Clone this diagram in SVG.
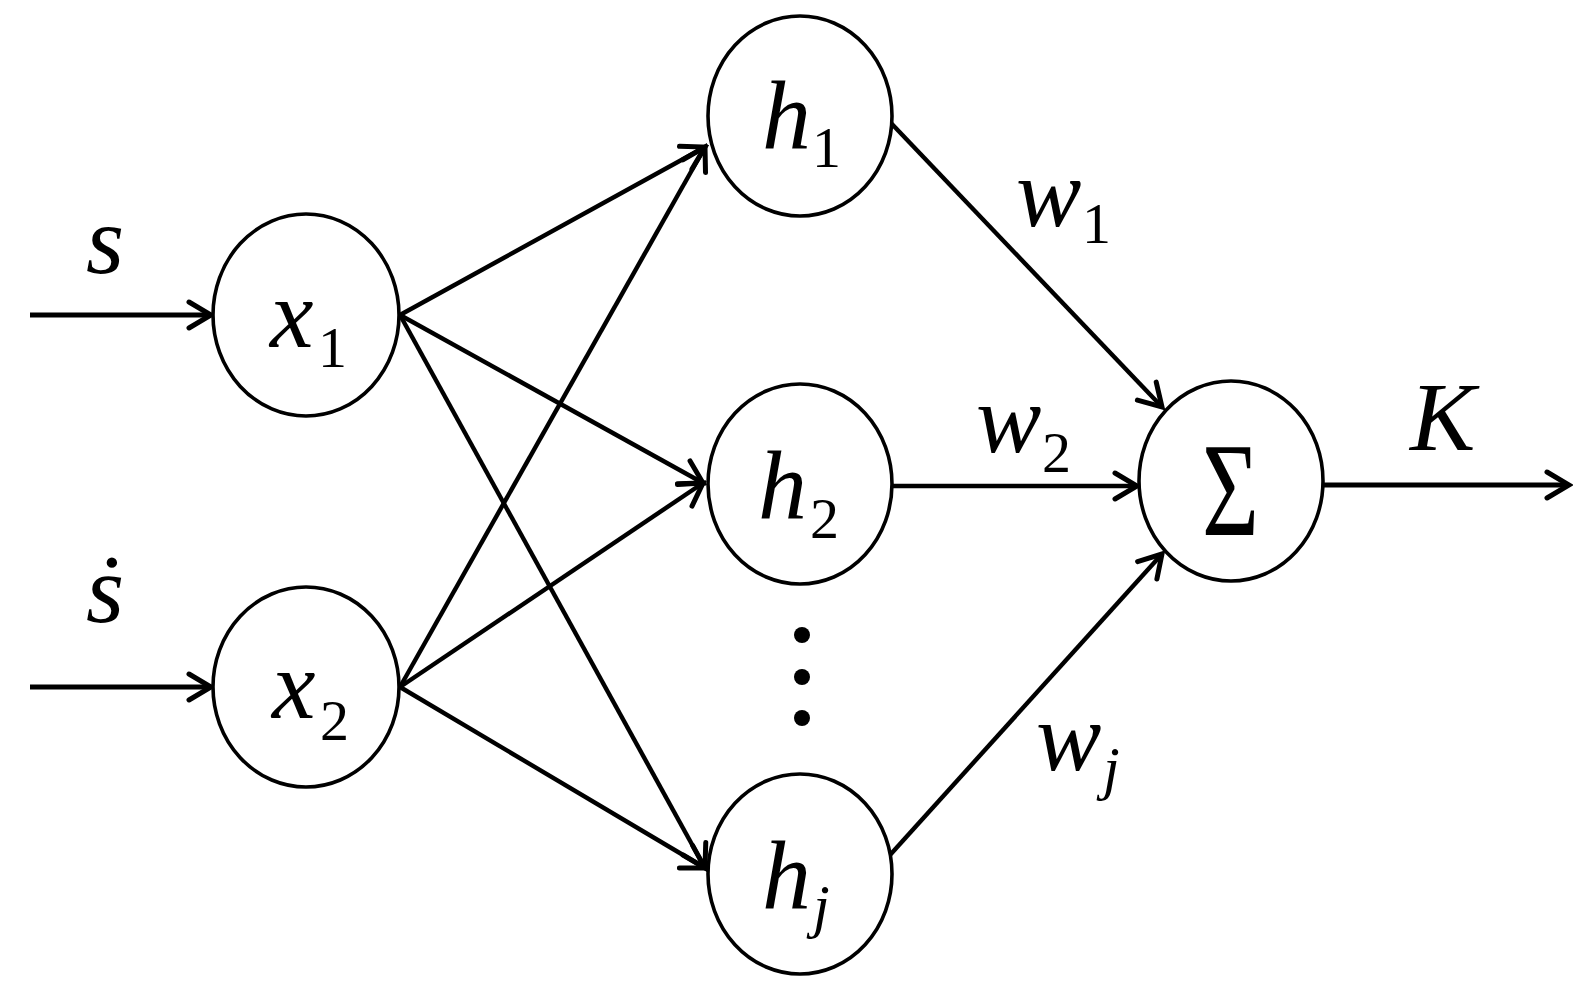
<svg xmlns="http://www.w3.org/2000/svg" width="1582" height="990" viewBox="0 0 1582 990">
<style>
.node{fill:#fff;stroke:#000;stroke-width:3.6}
.edge{stroke:#000;stroke-width:4.4;fill:none}
.inp{stroke:#000;stroke-width:5;fill:none}
.v{font-family:"Liberation Serif","DejaVu Serif",serif;font-style:italic;font-size:98px;fill:#000}
.sub{font-family:"Liberation Serif","DejaVu Serif",serif;font-size:58px;fill:#000}
.subi{font-family:"Liberation Serif","DejaVu Serif",serif;font-style:italic;font-size:60px;fill:#000}
</style>
<defs>
<marker id="arr" viewBox="-26 -16 30 32" markerWidth="30" markerHeight="32" refX="0" refY="0" orient="auto" markerUnits="userSpaceOnUse">
<path d="M -22 -13 L 0 0 L -22 13" fill="none" stroke="#000" stroke-width="5" stroke-linecap="round" stroke-linejoin="miter"/>
</marker>
</defs>
<rect width="1582" height="990" fill="#fff"/>
<g id="connectors">
<line class="inp" x1="30" y1="315" x2="211" y2="315" marker-end="url(#arr)"/>
<line class="inp" x1="30" y1="687" x2="211" y2="687" marker-end="url(#arr)"/>
<line class="edge" x1="400" y1="315" x2="705" y2="147" marker-end="url(#arr)"/>
<line class="edge" x1="400" y1="315" x2="703" y2="483" marker-end="url(#arr)"/>
<line class="edge" x1="400" y1="315" x2="705" y2="868" marker-end="url(#arr)"/>
<line class="edge" x1="400" y1="687" x2="705" y2="147" marker-end="url(#arr)"/>
<line class="edge" x1="400" y1="687" x2="703" y2="483" marker-end="url(#arr)"/>
<line class="edge" x1="400" y1="687" x2="705" y2="868" marker-end="url(#arr)"/>
<line class="edge" x1="890" y1="122" x2="1162" y2="407" marker-end="url(#arr)"/>
<line class="edge" x1="892" y1="486" x2="1137" y2="486" marker-end="url(#arr)"/>
<line class="edge" x1="890" y1="855" x2="1162" y2="554" marker-end="url(#arr)"/>
<line class="inp" x1="1323" y1="485" x2="1569" y2="485" marker-end="url(#arr)"/>
</g>
<g id="label-s"><text class="v" x="105" y="273" text-anchor="middle">s</text></g>
<g id="label-sdot"><text class="v" x="105" y="622" text-anchor="middle">ṡ</text></g>
<g id="label-w1"><text class="v" x="1016" y="226">w</text><text class="sub" x="1082" y="243">1</text></g>
<g id="label-w2"><text class="v" x="976" y="452">w</text><text class="sub" x="1042" y="472">2</text></g>
<g id="label-wj"><text class="v" x="1036" y="770">w</text><text class="subi" x="1103" y="788">j</text></g>
<g id="label-K"><text class="v" x="1410" y="450">K</text></g>
<g id="node-x1">
<ellipse class="node" cx="306" cy="315" rx="93" ry="101"/>
<text class="v" x="270" y="347">x</text><text class="sub" x="318" y="367">1</text>
</g>
<g id="node-x2">
<ellipse class="node" cx="306" cy="687" rx="93" ry="100"/>
<text class="v" x="272" y="718">x</text><text class="sub" x="320" y="740">2</text>
</g>
<g id="node-h1">
<ellipse class="node" cx="800" cy="116" rx="92" ry="100"/>
<text class="v" x="762" y="148">h</text><text class="sub" x="812" y="167">1</text>
</g>
<g id="node-h2">
<ellipse class="node" cx="800" cy="484" rx="92" ry="100"/>
<text class="v" x="758" y="518">h</text><text class="sub" x="810" y="538">2</text>
</g>
<g id="node-hj">
<ellipse class="node" cx="800" cy="874" rx="92" ry="100"/>
<text class="v" x="762" y="908">h</text><text class="subi" x="813" y="926">j</text>
</g>
<g id="node-sum">
<ellipse class="node" cx="1231" cy="481" rx="92" ry="100"/>
<text x="1202" y="535" font-family="Liberation Serif,DejaVu Serif,serif" font-size="134" textLength="57" lengthAdjust="spacingAndGlyphs">Σ</text>
</g>
<g id="dots">
<circle cx="802" cy="635" r="8"/>
<circle cx="802" cy="677" r="8"/>
<circle cx="802" cy="718" r="8"/>
</g>
</svg>
